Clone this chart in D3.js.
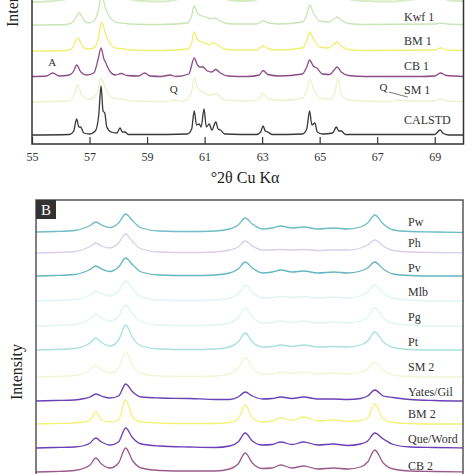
<!DOCTYPE html>
<html>
<head>
<meta charset="utf-8">
<script src="https://cdnjs.cloudflare.com/ajax/libs/d3/7.8.5/d3.min.js"></script>
<style>
    body { margin:0; background:#fff; }
    svg { display:block; font-family:"Liberation Serif","Times New Roman",serif; }
</style>
</head>
<body>
<svg id="chart" width="474" height="474"></svg>
<script>
// ---------- panel A : °2θ 55-70, [2θ, counts above own baseline]
var topTrace = [[55,0],[55.5,0.5],[56.2,3],[56.45,6],[56.6,14],[56.8,6],[57.1,5],[57.42,30],[57.7,10],[58,4],[58.3,3],[58.8,1],[59.6,0.5],[60.1,3],[60.4,5],[60.63,20],[60.9,10],[61.35,8],[61.7,3],[62.2,1],[62.7,1.5],[63.03,5],[63.4,4],[63.9,3.5],[64.3,5],[64.65,20],[65,6],[65.6,10],[66,3],[66.5,1],[67.5,0.5],[68.5,3],[69,3],[69.2,5],[69.5,1.5],[70,1]];
var kwf1 = [[55,0],[56.2,0.5],[56.45,4],[56.64,12],[56.8,5],[56.95,2],[57.15,4],[57.3,14],[57.42,30],[57.55,17],[57.7,8],[57.9,3],[58.1,2],[58.4,1],[59.5,0.5],[60.4,2],[60.55,9],[60.63,19],[60.75,12],[60.9,9],[61.05,8],[61.2,6],[61.35,7],[61.5,5],[61.7,2],[62,1],[62.8,1],[63.03,4],[63.25,2],[63.6,1],[64.4,3],[64.55,10],[64.65,20],[64.8,11],[65,4],[65.3,3],[65.5,6],[65.6,8],[65.75,5],[66,1.5],[66.5,0.5],[69,1],[69.2,2],[69.45,1],[70,0.5]];
var bm1 = [[55,0],[56.2,0.5],[56.4,3],[56.59,13],[56.75,5],[56.9,2],[57.15,3],[57.3,12],[57.42,29],[57.55,18],[57.7,8],[57.9,3],[58.1,2.5],[58.4,1],[59.5,0.5],[60.4,2],[60.55,8],[60.63,19],[60.75,12],[60.9,9],[61.05,8],[61.15,6],[61.3,8],[61.45,6],[61.7,2],[62,1],[62.8,1],[63.03,5],[63.25,2],[63.6,1],[64.4,3],[64.55,10],[64.65,19],[64.8,11],[65,4],[65.3,3],[65.5,7],[65.6,9],[65.75,5],[66,1.5],[66.5,0.5],[69,1],[69.2,3],[69.45,1],[70,0.5]];
var cb1 = [[55,0.5],[55.5,1],[55.72,4],[55.95,1],[56.3,2],[56.45,6],[56.55,12],[56.7,5],[56.9,2],[57.15,4],[57.3,18],[57.4,29],[57.5,18],[57.55,15],[57.7,6],[57.9,2],[58.1,3.5],[58.3,1.5],[58.7,1],[58.92,4],[59.1,1],[59.5,0.5],[59.8,2],[60,0.5],[60.45,3],[60.64,19],[60.75,12],[60.85,10],[60.94,10],[61.1,6],[61.25,5],[61.39,7.5],[61.55,4],[61.8,1],[62.5,0.5],[62.9,2],[63.03,6.5],[63.2,2.5],[63.6,1],[64.4,3],[64.55,10],[64.65,17],[64.78,11],[64.9,9],[65.1,3],[65.35,2.5],[65.5,7],[65.6,10],[65.75,5],[66,1.5],[66.6,0.5],[68.5,0.5],[69,1],[69.2,4],[69.4,1.5],[70,0.5]];
var sm1 = [[55,0],[56.3,1],[56.45,6],[56.59,17],[56.75,6],[57,3],[57.25,8],[57.4,24],[57.55,14],[57.8,4],[58.1,3],[58.5,1],[59.7,0.5],[59.95,2],[60.2,0.5],[60.4,3],[60.55,10],[60.64,24],[60.78,13],[60.95,10],[61.15,7],[61.4,8],[61.7,2],[62.5,1],[62.9,3],[63.03,9],[63.2,3],[63.7,1.5],[64.4,4],[64.55,12],[64.65,23],[64.8,12],[65,4],[65.35,3],[65.52,8],[65.63,24],[65.74,8],[66,2],[66.6,1],[67.5,0.5],[67.74,2],[68.2,1],[69,1],[69.2,3],[69.45,1],[70,0.5]];
var calstd = [[55,0],[56.3,0.5],[56.45,4],[56.55,16],[56.63,8],[56.69,8],[56.8,2],[57,1],[57.2,4],[57.32,20],[57.4,49],[57.47,24],[57.53,22],[57.6,8],[57.75,3],[57.95,2],[58.06,7],[58.14,3],[58.23,3],[58.35,0.5],[59,0.5],[60.4,1],[60.55,6],[60.64,24],[60.72,10],[60.81,11],[60.88,8],[60.98,26],[61.06,8],[61.16,11],[61.25,5],[61.39,13],[61.47,6],[61.55,5],[61.7,1],[62.8,0.5],[62.95,3],[63.03,9],[63.11,4],[63.2,3],[63.35,0.5],[64.4,1],[64.55,6],[64.65,24],[64.73,10],[64.83,12],[64.92,3],[65.1,1],[65.45,2],[65.58,8],[65.66,4],[65.75,4],[65.9,0.5],[69,0.5],[69.19,5],[69.3,1.5],[69.5,0],[70,0]];

var namesA = ["", "Kwf 1", "BM 1", "CB 1", "SM 1", "CALSTD"];
var seriesA = [topTrace, kwf1, bm1, cb1, sm1, calstd];
var offsetsA = [142, 119, 93, 67, 42, 9];
var colorsA = ["#d6ecc4", "#c9e5b6", "#f1ee72", "#8c4c87", "#eef2cd", "#383838"];
var labelRiseA = [0, 8, 10, 11, 12, 15];
var ticksA = [55, 57, 59, 61, 63, 65, 67, 69];
var notesA = [{t:"A", x:55.7, y:82}, {t:"Q", x:59.93, y:55}, {t:"Q", x:67.22, y:57}];

// ---------- panel B : shared 2θ positions, one intensity list per sample
var thetaB = [20,21.3,22.7,23.4,23.8,24.2,24.6,25.2,25.8,26.3,26.8,27.4,28.7,30.8,32.6,33.6,34.2,34.7,35.2,35.9,36.6,37.2,38,38.8,39.8,40.9,41.9,42.8,43.3,43.8,44.4,45.1,46.3,48,50];
var pw   = [0,0.5,1.5,4,6.5,10,7,4.5,9,18,11,4,1,0.5,1,3,7,14,8,3,4,6,4,5,3,4,3,5,9,17,8,2,0.5,0,-0.5];
var ph   = [0,0.5,1.5,4,6.5,10,7,5,10,19,11,4,1,0.5,1,3,6,12,7,3,3,3.5,3,3.5,2.5,3,3,5,8,13,7,2.5,1,0.5,0];
var pv   = [0,0.5,1.5,4,6.5,10,7,4.5,9,18,11,4,1,0.5,1,3,7,14,8,3,4,6,4,5,3,4,3,5,8,14,7,2,0.5,0,0];
var mlb  = [0,0.5,1.5,3.5,6,10,7.5,5,10,20,12,4,1,0.5,1,3,7,16,9,3,3.5,4.5,3.5,4.5,3,4,3,5,9,16,8,2.5,1,0,0];
var pg   = [0,0.5,1.5,4,7,12,8,5,10,21,12,4,1,0.5,1,3,8,18,9,3,3.5,5,3.5,5,3,4,3,5,9,18,8,2.5,1,0,0];
var pt   = [0,0.5,1.5,4,7,12,7.5,4,10,25,12,4,1,0.5,1,3,8,17,8,3,3.5,5,3.5,5,3,3.5,3,5,9,18,8,2.5,0.5,0,0];
var sm2  = [0,0.5,1.5,4,7,12,7,4,9,25,11,3.5,1,0.5,1,3,9,20,9,3,3,5,3.5,5,3,4,3,5,8,15,7,2,0.5,0,0];
var yates= [0,0.5,1,2.5,4,7,5,3,5,17,9,4,3,2.5,1.5,1.5,4,9,5,2,2.5,4,2.5,4,2,2,1.5,2.5,5,11,5,3.5,1.5,0.5,0];
var bm2  = [0,0.5,1,2,4,12,4,2,4,24,7,2,1,0.5,0.5,1.5,5,19,6,2,3,6,3.5,7,3,4,2.5,3.5,6,20,5,1.5,0.5,0,0];
var que  = [0,0.5,1,2.5,5,10,6,3,6,20,10,4,2,1,0.5,2,6,15,7,3,3.5,6,3.5,6,3,4,2.5,4,7,15,9,3.5,1,0.5,0];
var cb2  = [0,0.5,1.5,4,7,14,8,4,9,24,11,4,1.5,1,1,3,8,19,9,3.5,4,7,4,6,3,4,3,5,10,22,9,3,1,0.5,0];

var namesB = ["Pw", "Ph", "Pv", "Mlb", "Pg", "Pt", "SM 2", "Yates/Gil", "BM 2", "Que/Word", "CB 2"];
var seriesB = [pw, ph, pv, mlb, pg, pt, sm2, yates, bm2, que, cb2];
var offsetsB = [248, 227, 204, 179, 154, 130, 103, 79, 56, 32, 8];
var colorsB = ["#6dbcc6", "#d9d0e8", "#64b6c0", "#e0f4f4", "#e2f5f2", "#a8e0dc", "#f3f5d5", "#6a40b5", "#f4f27a", "#6b3fb8", "#9a5b8c"];
var labelRiseB = [10, 10, 8, 9, 9, 8, 10, 9, 10, 9, 6];

var svg = d3.select("#chart");

// ----- panel A
var xA = d3.scaleLinear().domain([55, 70]).range([32, 463.5]);
var yA = d3.scaleLinear().domain([0, 144]).range([144, 0]);

var gA = svg.append("g");
seriesA.forEach(function(pts, i) {
    var line = d3.line()
        .x(function(d) { return xA(d[0]); })
        .y(function(d) { return yA(offsetsA[i] + d[1]); })
        .curve(d3.curveMonotoneX);
    gA.append("path")
        .attr("d", line(pts))
        .attr("fill", "none")
        .attr("stroke", colorsA[i])
        .attr("stroke-width", i == 0 ? 2 : 1.3);
    if (namesA[i]) {
        gA.append("text")
            .attr("x", 404)
            .attr("y", yA(offsetsA[i] + labelRiseA[i]))
            .attr("dy", "0.35em")
            .attr("font-size", 12)
            .attr("fill", "#333")
            .text(namesA[i]);
    }
});

notesA.forEach(function(n) {
    gA.append("text")
        .attr("x", xA(n.x)).attr("y", yA(n.y)).attr("dy", "0.35em")
        .attr("text-anchor", "middle").attr("font-size", 11).attr("fill", "#333")
        .text(n.t);
});
gA.append("line")
    .attr("x1", xA(67.4)).attr("y1", yA(52))
    .attr("x2", xA(68.06)).attr("y2", yA(47))
    .attr("stroke", "#555").attr("stroke-width", 0.8);

// frame
gA.append("path")
    .attr("d", "M32,-2V144H463.5V-2")
    .attr("fill", "none").attr("stroke", "#333").attr("stroke-width", 1.5);

var axA = d3.axisBottom(xA)
    .tickValues(ticksA)
    .tickSizeInner(-7)
    .tickSizeOuter(0)
    .tickPadding(8)
    .tickFormat(d3.format("d"));
var axG = gA.append("g").attr("transform", "translate(0,144)").call(axA);
axG.attr("font-family", null).attr("font-size", 12);
axG.select(".domain").remove();
axG.selectAll("line").attr("stroke", "#333").attr("stroke-width", 1.2);
axG.selectAll("text").attr("fill", "#333");

gA.append("text")
    .attr("x", 245).attr("y", 183)
    .attr("text-anchor", "middle").attr("font-size", 16).attr("fill", "#222")
    .text("°2θ Cu Kα");

gA.append("text")
    .attr("transform", "translate(18,27) rotate(-90)")
    .attr("font-size", 16).attr("fill", "#222")
    .text("Intensity");

// ----- panel B
var xB = d3.scaleLinear().domain([20, 50]).range([36, 463]);
var yB = d3.scaleLinear().domain([0, 280]).range([480, 200]);

var gB = svg.append("g");
seriesB.forEach(function(vals, i) {
    var line = d3.line()
        .x(function(d, j) { return xB(thetaB[j]); })
        .y(function(d) { return yB(offsetsB[i] + d); })
        .curve(d3.curveMonotoneX);
    gB.append("path")
        .attr("d", line(vals))
        .attr("fill", "none")
        .attr("stroke", colorsB[i])
        .attr("stroke-width", 1.3);
    gB.append("text")
        .attr("x", 408)
        .attr("y", yB(offsetsB[i] + labelRiseB[i]))
        .attr("dy", "0.35em")
        .attr("font-size", 12)
        .attr("fill", "#333")
        .text(namesB[i]);
});

gB.append("path")
    .attr("d", "M36,480V200H463V480")
    .attr("fill", "none").attr("stroke", "#555").attr("stroke-width", 1.5);

gB.append("rect")
    .attr("x", 36).attr("y", 200).attr("width", 20).attr("height", 19)
    .attr("fill", "#333");
gB.append("text")
    .attr("x", 46).attr("y", 210).attr("dy", "0.35em")
    .attr("text-anchor", "middle").attr("font-size", 15).attr("fill", "#fff")
    .text("B");

gB.append("text")
    .attr("transform", "translate(22,372) rotate(-90)")
    .attr("text-anchor", "middle")
    .attr("font-size", 16).attr("fill", "#222")
    .text("Intensity");
</script>
</body>
</html>
